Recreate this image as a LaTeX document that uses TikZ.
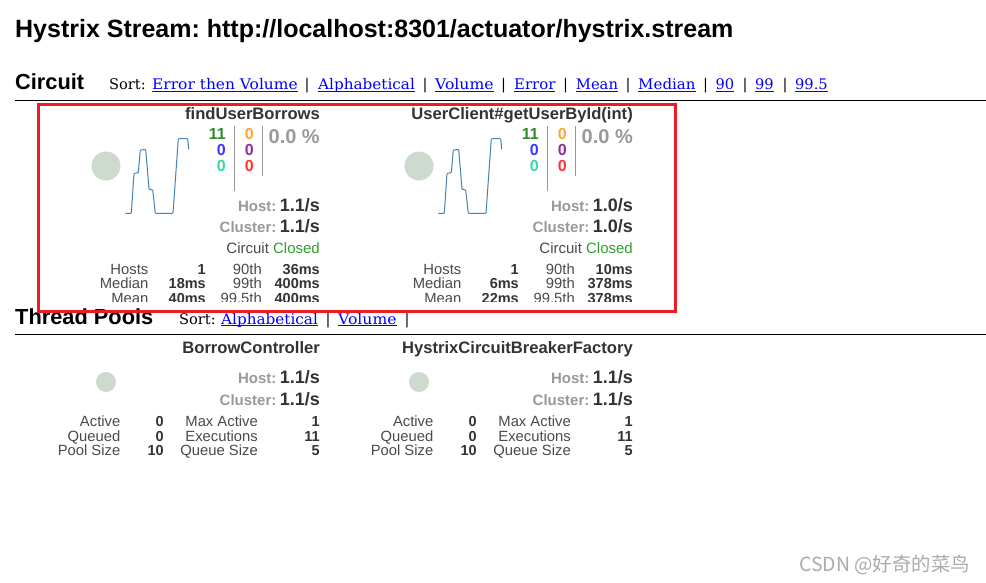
\documentclass[tikz,border=0pt]{standalone}
\usepackage{fontspec}
\usetikzlibrary{positioning}
\setmainfont{Liberation Sans}
\newfontfamily\sortfont{DejaVu Serif}
\newfontfamily\cjkfont{Noto Sans CJK SC}
\definecolor{ring}{HTML}{CDDACD}
\definecolor{spark}{HTML}{4682B4}
\definecolor{ink}{HTML}{333333}
\definecolor{soft}{HTML}{4A4A4A}
\definecolor{dim}{HTML}{999999}
\definecolor{faint}{HTML}{ABABAB}
\definecolor{cgreen}{HTML}{2E8B2E}
\definecolor{cblue}{HTML}{3838FF}
\definecolor{cteal}{HTML}{33D9AA}
\definecolor{corange}{HTML}{FFA733}
\definecolor{cpurple}{HTML}{902E9A}
\definecolor{cred}{HTML}{FF3333}
\definecolor{closed}{HTML}{2FA02F}
\definecolor{frame}{HTML}{ED1C24}
\frenchspacing
\newcommand{\fs}[1]{\fontsize{#1}{#1}\selectfont}
\newcommand{\linktext}[2]{\underline{\smash{\scalebox{#1}[1]{#2}}}}
\tikzset{
  txt/.style={inner sep=0pt,anchor=base east},
  head/.style={txt,font=\fs{21.8}\bfseries,anchor=base west},
  sortlbl/.style={inner sep=0pt,anchor=base west,font=\fs{14.6}\sortfont},
  sortbar/.style={sortlbl,anchor=base},
  cardname/.style={txt,font=\fs{16.6}\bfseries,text=ink},
  countlbl/.style={txt,font=\fs{16}\bfseries},
  ratelbl/.style={txt,font=\fs{18}\bfseries,text=ink},
  lbl/.style={txt,font=\fs{14.8},text=soft},
  val/.style={txt,font=\fs{14.5}\bfseries,text=ink},
  dot/.style={circle,fill=ring,inner sep=0pt},
}
\newcommand{\hostrows}[4]{% name, host baseline, cluster baseline, rate
  \node[ratelbl](#1hr)at(320,#2){#4};
  \node[txt,font=\fs{15}\bfseries,text=dim,left=3pt of #1hr.base west,anchor=base east](#1h){Host:};
  \node[ratelbl](#1cr)at(320,#3){#4};
  \node[txt,font=\fs{15}\bfseries,text=dim,left=3pt of #1cr.base west,anchor=base east](#1c){Cluster:};
}
\newcommand{\circuitcard}[8]{%
  \begin{scope}[xshift=#2pt]
    \node[cardname](#1t)at(320,120){#3};
    \node[dot,minimum size=29pt](#1d)at(106,166){};
    \draw[spark,line width=1pt,rounded corners=.8pt](125.3,213.3)--(131.3,213.3)--(134,173.3)--(138.3,172.7)--(140.3,150)--(145.7,149.5)--(149,189.3)--(152.7,190)--(155.3,213.3)--(173,213.3)--(178.3,138.7)--(187.7,138.7)--(188.7,149.3);
    \node[countlbl,text=cgreen](#1a)at(226,139.5){11};
    \node[countlbl,text=cblue](#1b)at(226,155.3){0};
    \node[countlbl,text=cteal](#1e)at(226,171.5){0};
    \node[countlbl,text=corange](#1f)at(254,139.5){0};
    \node[countlbl,text=cpurple](#1g)at(254,155.3){0};
    \node[countlbl,text=cred](#1i)at(254,171.5){0};
    \draw[dim,line width=.8pt](234.8,126)--(234.8,191.5) (262.7,126)--(262.7,176);
    \node[txt,font=\fs{20}\bfseries,text=dim](#1p)at(320,143.5){0.0 \%};
    \hostrows{#1}{211.5}{232.5}{#4}
    \node[txt,font=\fs{15}](#1s)at(320,254){\textcolor{soft}{Circuit} \textcolor{closed}{Closed}};
    \begin{scope}
      \clip(40,260)rectangle(325,301);
      \node[lbl](#1l1)at(148.5,274){Hosts};
      \node[val](#1v1)at(206,274){1};
      \node[lbl](#1m1)at(262,274){90th};
      \node[val](#1w1)at(320,274){#7};
      \node[lbl](#1l2)at(148.5,288.7){Median};
      \node[val](#1v2)at(206,288.7){#5};
      \node[lbl](#1m2)at(262,288.7){99th};
      \node[val](#1w2)at(320,288.7){#8};
      \node[lbl](#1l3)at(148.5,303.3){Mean};
      \node[val](#1v3)at(206,303.3){#6};
      \node[lbl](#1m3)at(262,303.3){99.5th};
      \node[val](#1w3)at(320,303.3){#8};
    \end{scope}
  \end{scope}
}
\newcommand{\poolcard}[3]{%
  \begin{scope}[xshift=#2pt]
    \node[cardname](#1t)at(320,353.5){#3};
    \node[dot,minimum size=20pt](#1d)at(106,382){};
    \hostrows{#1}{383.5}{405}{1.1/s}
    \foreach \row/\y/\la/\va/\lb/\vb in {1/426/Active/0/Max Active/1,2/441/Queued/0/Executions/11,3/455.7/Pool Size/10/Queue Size/5}{
      \node[lbl](#1l\row)at(120.5,\y){\la};
      \node[val](#1v\row)at(164,\y){\va};
      \node[lbl](#1m\row)at(258,\y){\lb};
      \node[val](#1w\row)at(320,\y){\vb};
    }
  \end{scope}
}
\begin{document}
\begin{tikzpicture}[x=1pt,y=-1pt]
    \useasboundingbox(0,0)rectangle(986,583);
    \fill[white](0,0)rectangle(986,583);
    \node[head,font=\fs{25}\bfseries](title)at(15,38){Hystrix Stream: http://localhost:8301/actuator/hystrix.stream};
    % circuit section
    \node[head](circuit)at(15,90){Circuit};
    \node[sortlbl](sortc)at(109,90){Sort:};
    \foreach \i/\x/\f/\t in {1/152/1.058/Error then Volume,2/318/1.043/Alphabetical,3/435/1.07/Volume,4/514/1.02/Error,5/575.7/1.01/Mean,6/638/1.03/Median,7/715.5/1/90,8/755/1/99,9/795/1/99.5}
      \node[sortlbl,text=blue](linkc\i)at(\x,90){\linktext{\f}{\t}};
    \foreach \i/\x in {1/307,2/425,3/503.7,4/565.7,5/628,6/705.7,7/745,8/785}
      \node[sortbar](barc\i)at(\x,90){|};
    \draw[line width=.9pt](15,100.5)--(986,100.5);
    \circuitcard{fub}{0}{findUserBorrows}{1.1/s}{18ms}{40ms}{36ms}{400ms}
    \circuitcard{ucg}{313}{UserClient\#getUserById(int)}{1.0/s}{6ms}{22ms}{10ms}{378ms}
    % thread pools section
    \node[head](pools)at(15,324){Thread Pools};
    \node[sortlbl](sortp)at(179,324){Sort:};
    \node[sortlbl,text=blue](linkp1)at(221,324){\linktext{1.043}{Alphabetical}};
    \node[sortbar](barp1)at(328,324){|};
    \node[sortlbl,text=blue](linkp2)at(338,324){\linktext{1.07}{Volume}};
    \node[sortbar](barp2)at(407,324){|};
    \draw[line width=.9pt](15,334.5)--(986,334.5);
    \poolcard{bor}{0}{BorrowController}
    \poolcard{hcb}{313}{HystrixCircuitBreakerFactory}
    \draw[frame,line width=3pt](38,105)rectangle(675.5,311);
    \node[txt,font=\fs{19.4}\cjkfont,text=faint](mark)at(970,571){CSDN @好奇的菜鸟};
\end{tikzpicture}
\end{document}
